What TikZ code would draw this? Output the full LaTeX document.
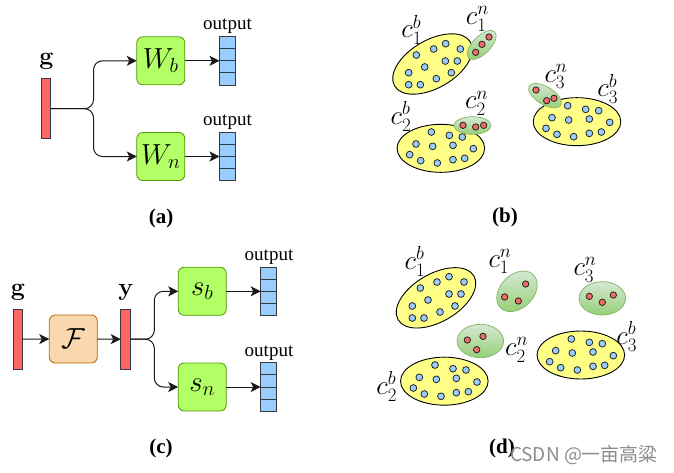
\RequirePackage{fix-cm}
\documentclass[tikz,border=0pt]{standalone}
\usepackage[no-math]{fontspec}
\setmainfont{Liberation Serif}
\newfontfamily\wmfont{Noto Sans CJK SC}
\usetikzlibrary{arrows.meta,calc}
\definecolor{gfill}{HTML}{B3FF66}
\definecolor{gline}{HTML}{4D9900}
\definecolor{rfill}{HTML}{FF6666}
\definecolor{bfill}{HTML}{99CCFF}
\definecolor{dline}{HTML}{36393D}
\definecolor{ofill}{HTML}{FAD7AC}
\definecolor{oline}{HTML}{B46504}
\definecolor{yfill}{HTML}{FFFF88}
\definecolor{dotred}{HTML}{F06A66}
\definecolor{nlight}{HTML}{D5E8D4}
\definecolor{ndark}{HTML}{97D077}
\definecolor{nline}{HTML}{82B366}
\tikzset{
  x=1pt,y=-1pt,
  arr/.style={draw=black!90,line width=1pt,-{Stealth[length=10pt,width=10pt,inset=2.5pt]}},
  branch/.style={arr,rounded corners=9pt},
  redbar/.style={draw=dline,fill=rfill,line width=0.9pt,minimum width=9.5pt,minimum height=60pt,inner sep=0pt,outer sep=0pt},
  greenbox/.style={draw=gline,fill=gfill,line width=0.8pt,rounded corners=6pt,minimum width=48pt,minimum height=48pt,inner sep=0pt,outer sep=0pt,font=\fontsize{29}{32}\selectfont},
  orangebox/.style={greenbox,draw=oline,fill=ofill},
  outbar/.style={draw=dline,fill=bfill,line width=0.9pt,minimum width=16pt,minimum height=48.4pt,inner sep=0pt,outer sep=0pt},
  outtext/.style={font=\fontsize{19}{22}\selectfont,inner sep=0pt},
  letter/.style={font=\fontsize{25}{28}\selectfont,inner sep=0pt},
  caption/.style={font=\bfseries\fontsize{21}{24}\selectfont,inner sep=0pt},
  clabel/.style={font=\fontsize{27}{30}\selectfont,inner sep=0pt,yshift=-1.5pt},
  base/.style={draw=black,fill=yfill,line width=0.9pt},
  novel/.style={top color=nlight,bottom color=ndark},
  novelline/.style={draw=nline,line width=0.7pt},
  bdot/.style={draw=black!85,fill=bfill,line width=0.8pt},
  rdot/.style={draw=black!85,fill=dotred,line width=0.8pt},
}
\newcommand{\outcells}[1]{%
  \foreach \k in {1,2,3}{\draw[dline,line width=0.9pt] ($(#1.north west)!{\k/4}!(#1.south west)$) -- ($(#1.north east)!{\k/4}!(#1.south east)$);}}
\newcommand{\novelell}[4]{%
  \shade[novel] #1 ellipse [x radius=#2,y radius=#3,rotate=#4];
  \draw[novelline] #1 ellipse [x radius=#2,y radius=#3,rotate=#4];}
\begin{document}
\begin{tikzpicture}
\useasboundingbox (0,0) rectangle (674,472);
% panel a
\node[redbar] (ga) at (46,108.7) {};
\node[letter] (gal) at (46.5,61) {$\mathbf{g}$};
\node[greenbox] (wb) at (160.8,60.8) {$W_b$};
\node[greenbox] (wn) at (160.8,156.5) {$W_n$};
\node[outbar] (oa1) at (227.5,60.8) {};
\node[outbar] (oa2) at (227.5,156.5) {};
\outcells{oa1}\outcells{oa2}
\node[outtext] (ta1) at (227.5,26) {output};
\node[outtext] (ta2) at (227.5,122) {output};
\coordinate (ja) at (93.5,108.7);
\draw[branch] (ga.east) -- (ja) |- (wb.west);
\draw[branch] (ga.east) -- (ja) |- (wn.west);
\draw[arr] (wb.east) -- (oa1.west);
\draw[arr] (wn.east) -- (oa2.west);
\node[caption] (capa) at (161,218) {(a)};
% panel c
\node[redbar] (gc) at (18,339.2) {};
\node[letter] (gcl) at (18,292) {$\mathbf{g}$};
\node[orangebox] (ff) at (73.3,339) {$\mathcal{F}$};
\node[redbar] (yc) at (125.5,339.2) {};
\node[letter] (ycl) at (126,292) {$\mathbf{y}$};
\node[greenbox] (sb) at (202.2,291.3) {$s_b$};
\node[greenbox] (sn) at (202.2,387) {$s_n$};
\node[outbar] (oc1) at (268.7,291.3) {};
\node[outbar] (oc2) at (268.7,387) {};
\outcells{oc1}\outcells{oc2}
\node[outtext] (tc1) at (269,257) {output};
\node[outtext] (tc2) at (269,353) {output};
\coordinate (jc) at (154.3,339.2);
\draw[arr] (gc.east) -- (ff.west);
\draw[arr] (ff.east) -- (yc.west);
\draw[branch] (yc.east) -- (jc) |- (sb.west);
\draw[branch] (yc.east) -- (jc) |- (sn.west);
\draw[arr] (sb.east) -- (oc1.west);
\draw[arr] (sn.east) -- (oc2.west);
\node[caption] (capc) at (161,448) {(c)};
% panel b
\begin{scope}[shift={(340pt,0pt)},x=1pt/3,y=-1pt/3]
\draw[base] (277.5,192) ellipse [x radius=43.8pt,y radius=24pt,rotate=30];
\draw[base] (302.5,445) ellipse [x radius=43.8pt,y radius=24pt];
\draw[base] (711,365) ellipse [x radius=43.8pt,y radius=24pt];
\foreach \p in {(229,165),(281,147),(317,131),(361,147),(316,183),(352,183),(254,201),(206,218),(334,218),(289,236),(206,254),(241,254),
(274,396),(328,406),(367,411),(228,432),(278,439),(339,436),(400,446),(209,464),(242,482),(292,489),(339,479),(374,475),
(683,317),(737,328),(776,332),(636,353),(686,360),(748,357),(809,367),(618,385),(651,403),(701,410),(748,400),(784,396)}
  \draw[bdot] \p circle (3.4pt);
\novelell{(425,135)}{18.5pt}{8.8pt}{45}
\novelell{(397.5,376.5)}{18.5pt}{8.8pt}{0}
\novelell{(615,287)}{18.5pt}{8.8pt}{-31}
\foreach \p in {(447,111),(426,133),(407,157),(369,376),(407,381),(431,376),(588,270),(620,302),(642,295)}
  \draw[rdot] \p circle (3.2pt);
\node[clabel] (b1) at (215,85) {$c_1^b$};
\node[clabel] (b2) at (412,52) {$c_1^n$};
\node[clabel] (b3) at (183,345) {$c_2^b$};
\node[clabel] (b4) at (410,305) {$c_2^n$};
\node[clabel] (b5) at (648,225) {$c_3^n$};
\node[clabel] (b6) at (803,262) {$c_3^b$};
\end{scope}
\node[caption] (capb) at (505,217) {(b)};
% panel d
\begin{scope}[shift={(340pt,-235pt)},x=1pt/3,y=-1pt/3]
\draw[base] (288,188.5) ellipse [x radius=43.8pt,y radius=24pt,rotate=30];
\draw[base] (313,438.5) ellipse [x radius=43.8pt,y radius=24pt];
\draw[base] (722.5,360) ellipse [x radius=43.8pt,y radius=24pt];
\foreach \p in {(241,159),(291,141),(327,125),(372,141),(327,177),(363,177),(264,195),(217,213),(345,213),(300,231),(217,249),(252,249),
(285,390),(339,401),(378,405),(238,427),(289,433),(349,430),(411,441),(220,459),(253,477),(303,484),(349,473),(385,470),
(694,312),(748,322),(787,326),(647,347),(697,354),(759,351),(820,362),(629,380),(662,398),(712,405),(759,394),(794,391)}
  \draw[bdot] \p circle (3.4pt);
\novelell{(531,169)}{23.3pt}{16.7pt}{45}
\novelell{(421,318)}{23.3pt}{16.7pt}{0}
\novelell{(787,190)}{23.3pt}{16.7pt}{0}
\foreach \p in {(557,147),(494,186),(535,198),(382,315),(429,304),(410,344),(748,184),(820,180),(787,202)}
  \draw[rdot] \p circle (3.2pt);
\node[clabel] (d1) at (225,75) {$c_1^b$};
\node[clabel] (d2) at (480,75) {$c_1^n$};
\node[clabel] (d3) at (735,100) {$c_3^n$};
\node[clabel] (d4) at (530,340) {$c_2^n$};
\node[clabel] (d5) at (860,300) {$c_3^b$};
\node[clabel] (d6) at (140,450) {$c_2^b$};
\end{scope}
\node[caption] (capd) at (502,448) {(d)};
\node[font=\wmfont\fontsize{19}{22}\selectfont,text=black!45,inner sep=0pt] (wm) at (584,455) {CSDN @一亩高粱};
\end{tikzpicture}
\end{document}
